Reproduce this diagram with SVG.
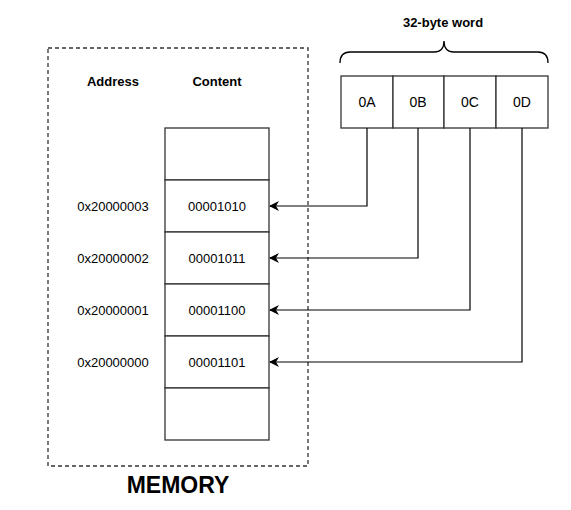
<svg xmlns="http://www.w3.org/2000/svg" width="571" height="510" viewBox="0 0 571 510">
<style>
text{font-family:"Liberation Sans",Arial,sans-serif;fill:#000}
.b{font-weight:bold}
.cell{fill:#fff;stroke:#333;stroke-width:1.3}
.conn{fill:none;stroke:#000;stroke-width:1.2}
</style>
<defs>
<marker id="arr" viewBox="0 0 10 10" refX="9" refY="5" markerWidth="10" markerHeight="10" markerUnits="userSpaceOnUse" orient="auto">
<path d="M10,5 L0,0 L3,5 L0,10 Z" fill="#000"/>
</marker>
</defs>
<rect width="571" height="510" fill="#fff"/>
<g id="memory">
<rect x="48" y="48" width="260" height="418" fill="none" stroke="#333" stroke-width="1.3" stroke-dasharray="4,3"/>
<text x="178" y="493" font-size="23" class="b" text-anchor="middle">MEMORY</text>
<text x="113" y="86" font-size="13" class="b" text-anchor="middle">Address</text>
<text x="217" y="86" font-size="13" class="b" text-anchor="middle">Content</text>
</g>
<g id="cells">
<rect class="cell" x="165" y="128" width="104" height="52"/>
<rect class="cell" x="165" y="180" width="104" height="52"/>
<rect class="cell" x="165" y="232" width="104" height="52"/>
<rect class="cell" x="165" y="284" width="104" height="52"/>
<rect class="cell" x="165" y="336" width="104" height="52"/>
<rect class="cell" x="165" y="388" width="104" height="52"/>
<g font-size="13" text-anchor="middle">
<text x="217" y="211">00001010</text>
<text x="217" y="263">00001011</text>
<text x="217" y="315">00001100</text>
<text x="217" y="367">00001101</text>
<text x="113" y="211">0x20000003</text>
<text x="113" y="263">0x20000002</text>
<text x="113" y="315">0x20000001</text>
<text x="113" y="367">0x20000000</text>
</g>
</g>
<g id="word">
<text x="443" y="27" font-size="13" class="b" text-anchor="middle">32-byte word</text>
<path d="M340,63 Q340,52 350,52 L434,52 Q444,52 444,41 Q444,52 454,52 L538,52 Q548,52 548,63" fill="none" stroke="#000" stroke-width="1.3"/>
<rect class="cell" x="341" y="76" width="52" height="52"/>
<rect class="cell" x="393" y="76" width="51" height="52"/>
<rect class="cell" x="444" y="76" width="52" height="52"/>
<rect class="cell" x="496" y="76" width="52" height="52"/>
<g font-size="14" text-anchor="middle">
<text x="367" y="107">0A</text>
<text x="418" y="107">0B</text>
<text x="470" y="107">0C</text>
<text x="522" y="107">0D</text>
</g>
</g>
<g id="connectors">
<path class="conn" d="M367,128 V206 H270" marker-end="url(#arr)"/>
<path class="conn" d="M418,128 V258 H270" marker-end="url(#arr)"/>
<path class="conn" d="M470,128 V310 H270" marker-end="url(#arr)"/>
<path class="conn" d="M522,128 V362 H270" marker-end="url(#arr)"/>
</g>
</svg>
